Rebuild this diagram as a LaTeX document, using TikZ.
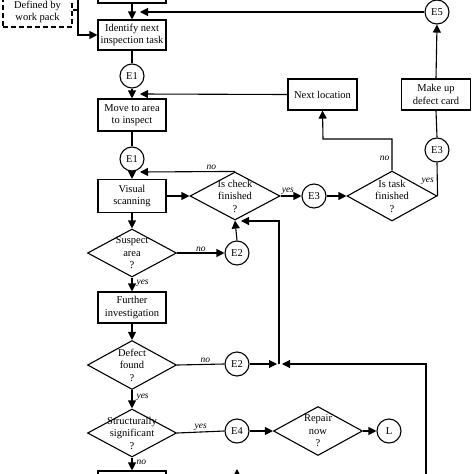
\documentclass[tikz,border=0pt]{standalone}
\usepackage{fontspec}
\setmainfont{Liberation Serif}
\usetikzlibrary{shapes.geometric,arrows.meta}
\begin{document}
\begin{tikzpicture}[x=1pt,y=-1pt,
  every node/.style={font=\fontsize{10.5}{12.5}\selectfont},
  box/.style={draw,line width=1.1pt,minimum width=68pt,minimum height=31pt,inner sep=1pt,align=center},
  conn/.style={draw,circle,line width=1.1pt,minimum size=24pt,inner sep=0pt},
  dia/.style={draw,diamond,line width=1.1pt,minimum width=89pt,minimum height=48pt,inner sep=0pt},
  lab/.style={font=\fontsize{9.5}{10}\selectfont\itshape,inner sep=1pt},
  ln/.style={line width=1.1pt},
  arr/.style={ln,-{Triangle[length=8pt,width=8pt]}}
]
\useasboundingbox (0,0) rectangle (474,474);
\clip (0,0) rectangle (474,474);

% boxes
\node[box,minimum height=32pt] (topb) at (132,-13) {};
\node[draw,line width=1.1pt,dash pattern=on 5pt off 3pt,minimum width=69pt,minimum height=30pt,inner sep=1pt,align=center] (wp) at (37.5,12) {Defined by\\work pack};
\node[box,minimum height=30pt] (ident) at (132,35) {Identify next\\inspection task};
\node[box,minimum height=32pt] (move) at (132,115) {Move to area\\to inspect};
\node[box,minimum height=33pt] (vis) at (132,196) {Visual\\scanning};
\node[box] (further) at (132,307.5) {Further\\investigation};
\node[box,minimum height=32pt] (botb) at (132,487) {};
\node[box,minimum width=69pt] (nextloc) at (322.5,94.5) {Next location};
\node[box,minimum width=69pt] (makeup) at (436,94.5) {Make up\\defect card};

% connectors (circles)
\node[conn] (e1a) at (132,76) {E1};
\node[conn] (e1b) at (132,159) {E1};
\node[conn] (e5) at (437,12) {E5};
\node[conn] (e3u) at (437,150) {E3};
\node[conn] (e3m) at (314,196) {E3};
\node[conn] (e2a) at (237,253) {E2};
\node[conn] (e2b) at (237,364) {E2};
\node[conn] (e4) at (237,431) {E4};
\node[conn] (ll) at (389,431) {L};

% diamonds
\node[dia,minimum width=90pt] (checkd) at (235,196) [label={[align=center]center:{Is check\\finished\\?}}] {};
\node[dia,minimum width=90pt,minimum height=50pt] (taskd) at (392,196) [label={[align=center]center:{Is task\\finished\\?}}] {};
\node[dia] (susp) at (132,253) [label={[align=center]center:{Suspect\\area\\?}}] {};
\node[dia,minimum height=49pt] (defect) at (132,365) [label={[align=center]center:{Defect\\found\\?}}] {};
\node[dia] (struct) at (132,433) [label={[align=center]center:{Structurally\\significant\\?}}] {};
\node[dia,minimum height=49pt] (repair) at (318,431) [label={[align=center]center:{Repair\\now\\?}}] {};

% coordinates
\coordinate (brtop) at (78,-10);
\coordinate (brtick) at (78,10);
\coordinate (brbot) at (78,35);
\coordinate (j5) at (140,12);
\coordinate (jnl) at (140,94);
\coordinate (jno) at (140,172);
\coordinate (t1) at (392,139);
\coordinate (t2) at (323,139);
\coordinate (cj) at (279,364);
\coordinate (cjt) at (279,221);
\coordinate (cje) at (241,221);
\coordinate (rin) at (426,490);
\coordinate (rc) at (426,364);
\coordinate (rend) at (282,364);
\coordinate (jin) at (277,364);
\coordinate (upb) at (237,490);
\coordinate (upt) at (237,469);

% main column
\draw[arr] (topb.south) -- (ident.north);
\draw[ln] (ident.south) -- (e1a.north);
\draw[arr] (e1a.south) -- (move.north);
\draw[ln] (move.south) -- (e1b.north);
\draw[arr] (e1b.south) -- (vis.north);
\draw[arr] (vis.south) -- (susp.north);
\draw[arr] (susp.south) -- node[lab,anchor=west,pos=0.4,xshift=3pt] {yes} (further.north);
\draw[arr] (further.south) -- (defect.north);
\draw[arr] (defect.south) -- node[lab,anchor=west,pos=0.4,xshift=3pt] {yes} (struct.north);
\draw[arr] (struct.south) -- node[lab,anchor=west,pos=0.4,xshift=3pt] {no} (botb.north);

% work pack bracket
\draw[ln] (wp.east |- brtick) -- (brtick);
\draw[arr] (brtop) -- (brbot) -- (ident.west);

% top feedback
\draw[arr] (e5.west) -- (j5);
\draw[arr] (makeup.north) -- (e5.south);
\draw[ln] (e3u.north) -- (makeup.south);
\draw[ln] (e3u.south) -- node[lab,anchor=east,pos=0.55,xshift=-2pt] {yes} (taskd.east);
\draw[arr] (nextloc.west) -- (jnl);
\draw[arr] (taskd.north) -- node[lab,anchor=east,pos=0.4,xshift=-1pt] {no} (t1) -- (t2) -- (nextloc.south);

% check row
\draw[arr] (vis.east) -- (checkd.west);
\draw[arr] (checkd.north) -- node[lab,anchor=south,pos=0.25] {no} (jno);
\draw[arr] (checkd.east) -- node[lab,anchor=south,pos=0.35] {yes} (e3m.west);
\draw[arr] (e3m.east) -- (taskd.west);

% suspect
\draw[arr] (susp.east) -- node[lab,anchor=south,pos=0.5] {no} (e2a.west);
\draw[arr] (e2a.north) -- (checkd.south);
\draw[arr] (cj) -- (cjt) -- (cje);

% defect
\draw[ln] (defect.east) -- node[lab,anchor=south,pos=0.6] {no} (e2b.west);
\draw[arr] (e2b.east) -- (jin);
\draw[arr] (rin) -- (rc) -- (rend);

% structurally significant
\draw[ln] (struct.east) -- node[lab,anchor=south,pos=0.5] {yes} (e4.west);
\draw[arr] (e4.east) -- (repair.west);
\draw[arr] (repair.east) -- (ll.west);
\draw[arr] (upb) -- (upt);
\end{tikzpicture}
\end{document}
